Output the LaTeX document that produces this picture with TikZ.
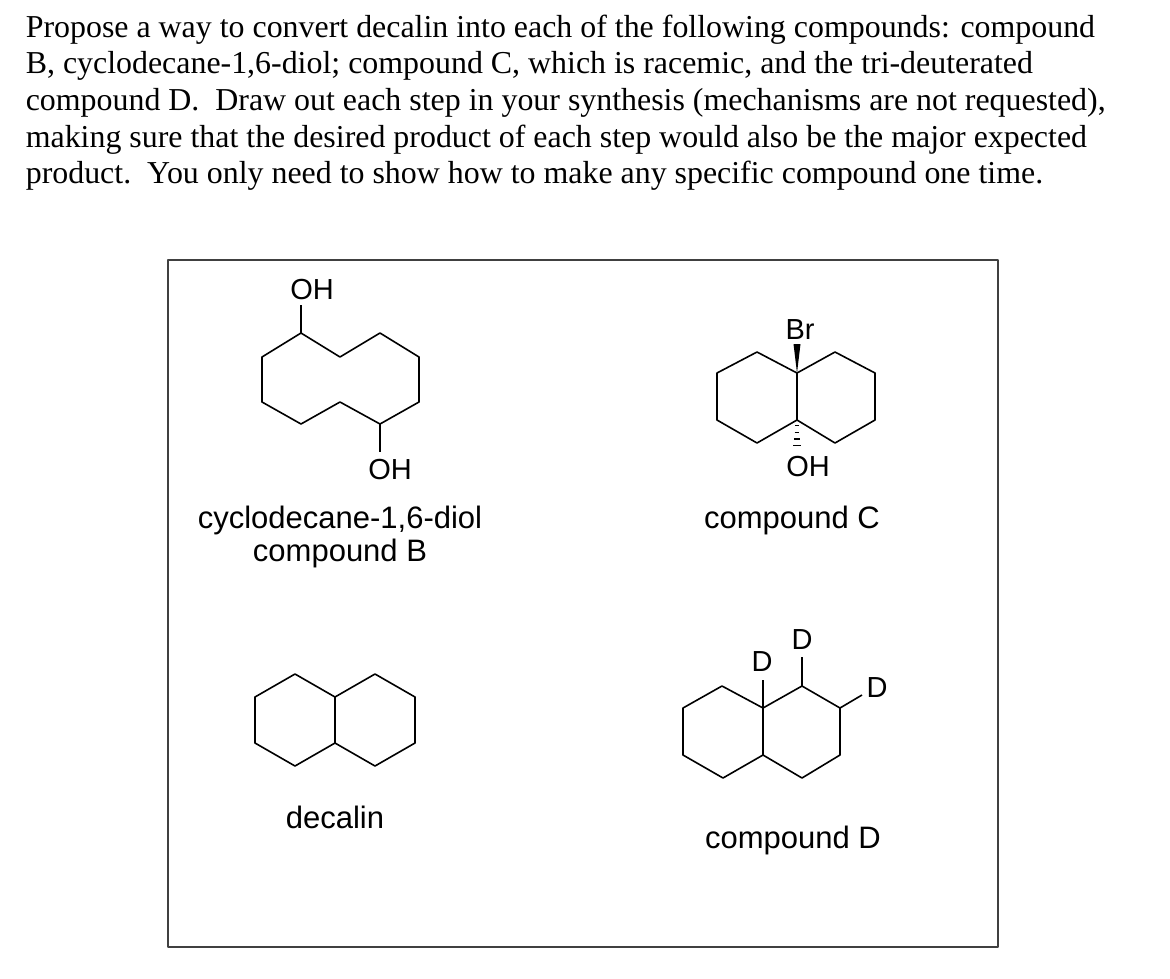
\documentclass[tikz,border=0pt]{standalone}
\usepackage{fontspec}
\setmainfont{Liberation Serif}
\newfontfamily\arialf{Liberation Sans}
\begin{document}
\begin{tikzpicture}[x=1pt,y=-1pt,line width=1.6pt,line join=round,
  para/.style={anchor=base west,inner sep=0,font=\fontsize{31.9}{36}\selectfont},
  lab/.style={inner sep=0,font=\arialf\fontsize{31}{34}\selectfont},
  atom/.style={inner sep=0,font=\arialf\fontsize{29}{30}\selectfont}]
\useasboundingbox (0,0) rectangle (1170,978);
\node[para] (l1) at (25,37) {Propose a way to convert decalin into each of the following compounds: compound};
\node[para] (l2) at (25,73) {B, cyclodecane-1,6-diol; compound C, which is racemic, and the tri-deuterated};
\node[para] (l3) at (25,110) {compound D.\ \ Draw out each step in your synthesis (mechanisms are not requested),};
\node[para] (l4) at (25,147) {making sure that the desired product of each step would also be the major expected};
\node[para] (l5) at (25,183) {product.\ \ You only need to show how to make any specific compound one time.};
\draw[line width=1.2pt,draw=black!75] (168,260) rectangle (998,947);
% compound B
\draw (301,333)--(262,357)--(262,402)--(301,424)--(340,402)--(380,424)--(419,402)--(419,357)--(380,333)--(340,357)--cycle;
\draw (301,333)--(301,305);
\draw (380,424)--(380,452);
\node[atom] (b1) at (312,290) {OH};
\node[atom] (b2) at (390,470) {OH};
\node[lab] (bl1) at (340,520) {cyclodecane-1,6-diol};
\node[lab] (bl2) at (340,553) {compound B};
% compound C
\draw (797,373)--(757,352)--(717,373)--(717,420)--(757,443)--(797,420)--cycle;
\draw (797,373)--(835,352)--(875,373)--(875,420)--(835,443)--(797,420);
\fill (797,373)--(793.5,344)--(800.5,344)--cycle;
\foreach \t in {0.2,0.45,0.7,0.95} \draw[line width=1.2pt] ({797-1-3*\t},{420+27*\t})--({797+1+3*\t},{420+27*\t});
\node[atom] (cbr) at (800,330) {Br};
\node[atom] (coh) at (808,467) {OH};
\node[lab] (cl) at (792,520) {compound C};
% decalin
\draw (335,697)--(295,674)--(255,697)--(255,743)--(295,766)--(335,743)--cycle;
\draw (335,697)--(375,674)--(415,697)--(415,743)--(375,766)--(335,743);
\node[lab] (dl) at (335,817) {decalin};
% compound D
\draw (763,708)--(722,686)--(683,708)--(683,755)--(723,778)--(763,755)--cycle;
\draw (763,708)--(802,686)--(840,708)--(840,755)--(802,778)--(763,755);
\draw (763,708)--(763,680);
\draw (802,686)--(802,657);
\draw (840,708)--(862,695);
\node[atom] (d1) at (762,662) {D};
\node[atom] (d2) at (802,640) {D};
\node[atom] (d3) at (877,688) {D};
\node[lab] (ddl) at (793,840) {compound D};
\end{tikzpicture}
\end{document}
